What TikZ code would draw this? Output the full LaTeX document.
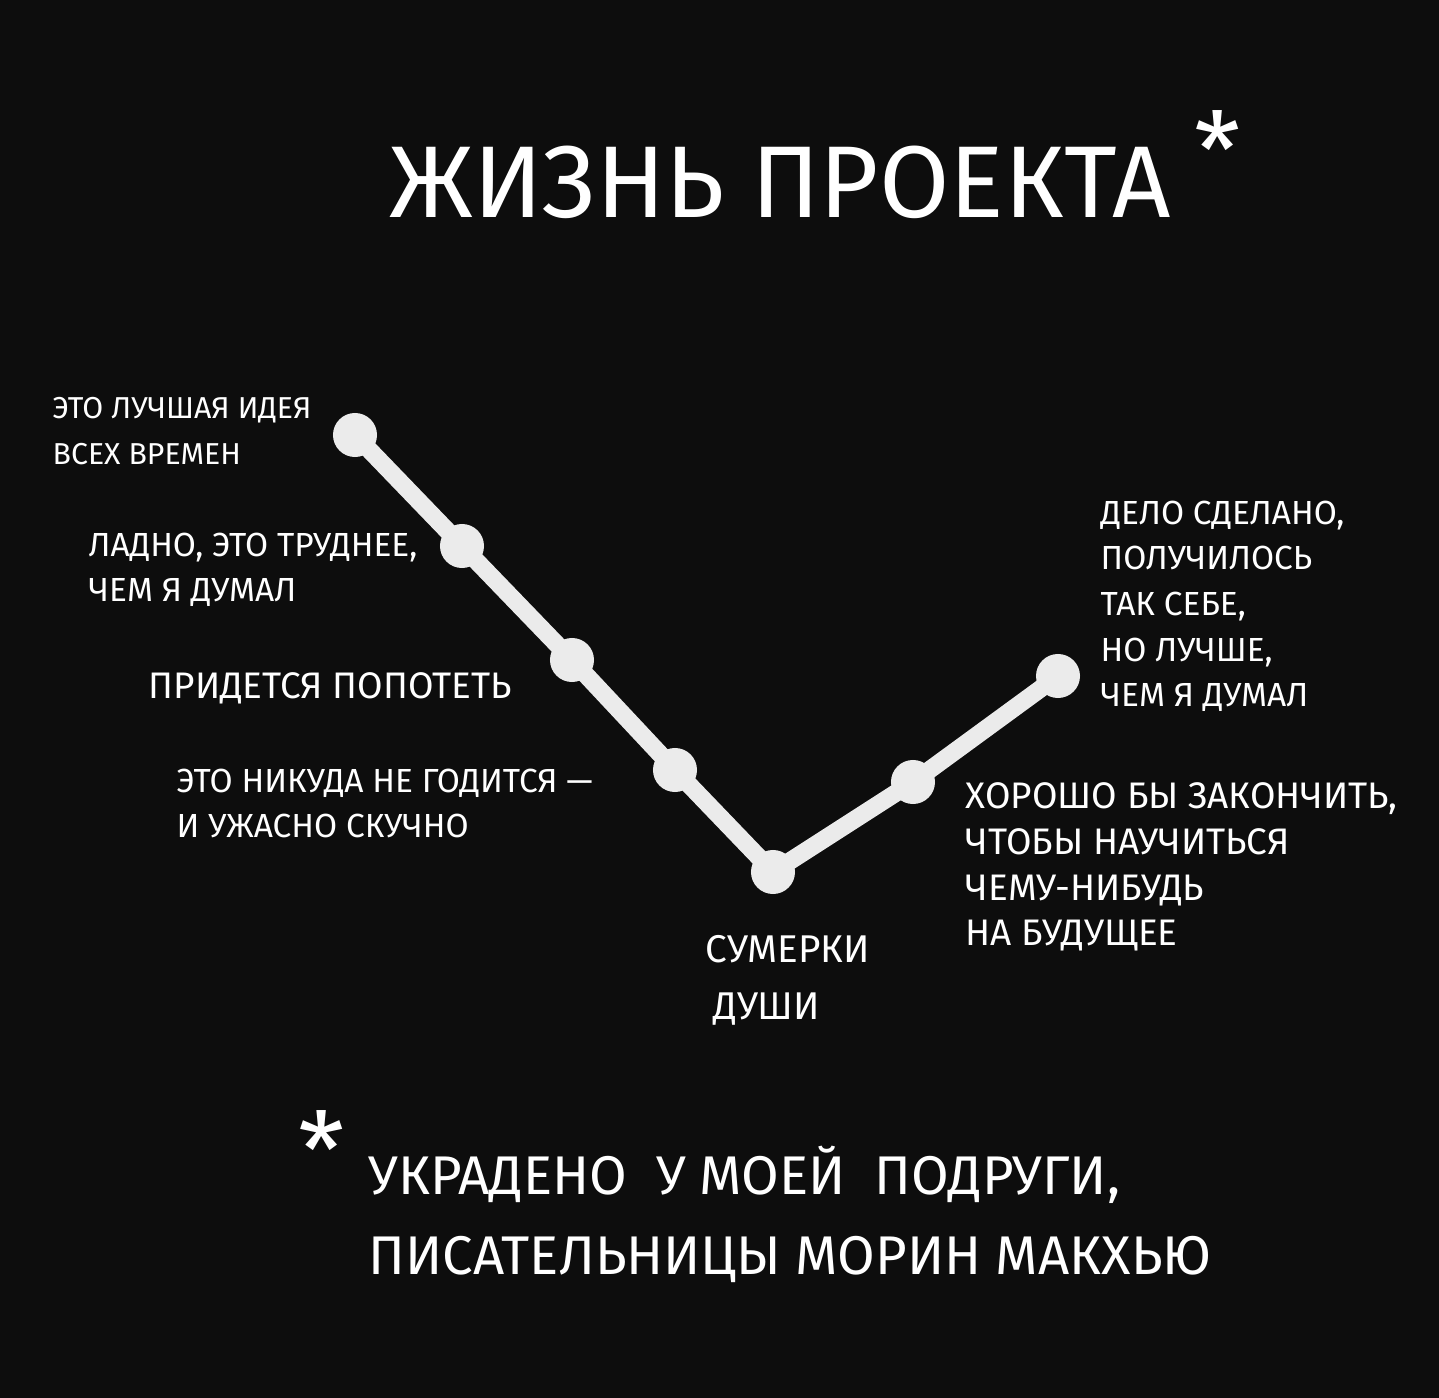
\documentclass[tikz,border=0pt]{standalone}
\usepackage{fontspec}
\setmainfont{Fira Sans}
\begin{document}
\begin{tikzpicture}[x=0.01cm,y=-0.01cm,
  dot/.style={circle,fill=white!92!black,minimum size=0.44cm,inner sep=0pt},
  lbl/.style={text=white,font=\fontsize{9.5}{13}\selectfont,align=left,inner sep=0pt},
  seg/.style={draw=white!92!black,line width=5pt}]
\fill[black!95!white] (0,0) rectangle (1439,1398);
\useasboundingbox (0,0) rectangle (1439,1398);
\node[text=white,font=\fontsize{29}{34}\selectfont,inner sep=0pt] (title) at (780,182) {ЖИЗНЬ ПРОЕКТА};
\node[text=white,font=\fontsize{30}{30}\selectfont,inner sep=0pt] (star1) at (1218,150) {*};
\coordinate (a) at (355,435);
\coordinate (b) at (462,546);
\coordinate (c) at (572,660);
\coordinate (d) at (675,770);
\coordinate (e) at (773,872);
\coordinate (f) at (913,782);
\coordinate (g) at (1058,676);
\draw[seg] (a) -- (b) -- (c) -- (d) -- (e) -- (f) -- (g);
\foreach \n in {a,b,c,d,e,f,g} \node[dot] (dot\n) at (\n) {};
\node[lbl,anchor=north west,font=\fontsize{8.6}{13}\selectfont] (la) at (52,397) {ЭТО ЛУЧШАЯ ИДЕЯ\\ВСЕХ ВРЕМЕН};
\node[lbl,anchor=north west] (lb) at (88,532) {ЛАДНО, ЭТО ТРУДНЕЕ,\\ЧЕМ Я ДУМАЛ};
\node[lbl,anchor=north west,font=\fontsize{10.5}{13}\selectfont] (lc) at (148,672) {ПРИДЕТСЯ ПОПОТЕТЬ};
\node[lbl,anchor=north west] (ld) at (176,768) {ЭТО НИКУДА НЕ ГОДИТСЯ —\\И УЖАСНО СКУЧНО};
\node[lbl,anchor=north west,font=\fontsize{11}{16}\selectfont] (le) at (705,935) {СУМЕРКИ\\\hspace*{0.2em}ДУШИ};
\node[lbl,anchor=north west,font=\fontsize{10.5}{13}\selectfont] (lf) at (965,782) {ХОРОШО БЫ ЗАКОНЧИТЬ,\\ЧТОБЫ НАУЧИТЬСЯ\\ЧЕМУ-НИБУДЬ\\НА БУДУЩЕЕ};
\node[lbl,anchor=north west] (lg) at (1100,500) {ДЕЛО СДЕЛАНО,\\ПОЛУЧИЛОСЬ\\ТАК СЕБЕ,\\НО ЛУЧШЕ,\\ЧЕМ Я ДУМАЛ};
\node[text=white,font=\fontsize{30}{30}\selectfont,inner sep=0pt] (star2) at (322,1150) {*};
\node[lbl,anchor=north west,font=\fontsize{15.5}{23}\selectfont] (foot) at (368,1145) {УКРАДЕНО \ У МОЕЙ \ ПОДРУГИ,\\ПИСАТЕЛЬНИЦЫ МОРИН МАКХЬЮ};
\end{tikzpicture}
\end{document}
